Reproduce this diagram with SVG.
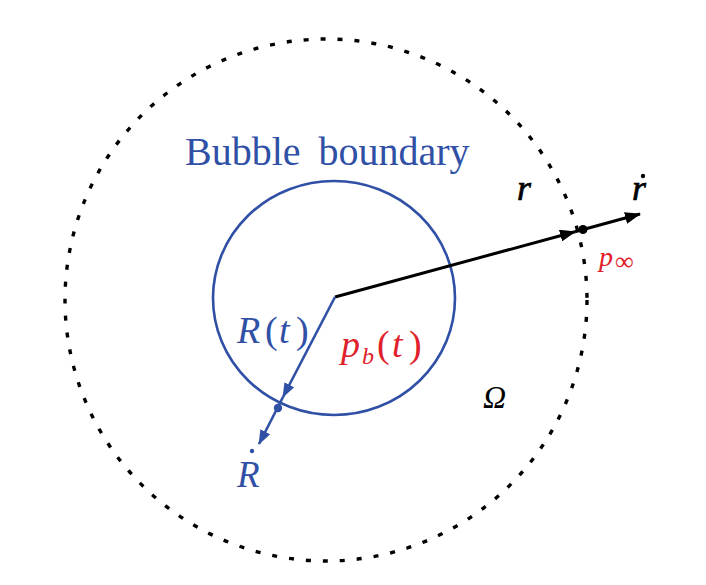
<svg xmlns="http://www.w3.org/2000/svg" width="706" height="585" viewBox="0 0 706 585">
  <style>
    .math { font-family: "Liberation Serif", "DejaVu Serif", serif; font-style: italic; }
    .up { font-family: "Liberation Serif", "DejaVu Serif", serif; font-style: normal; }
    .blue { fill: #3050a6; }
    .red { fill: #e0202a; }
    .black { fill: #000; }
  </style>
  <defs>
    <marker id="ahK" viewBox="0 0 16 12" refX="15" refY="6" markerWidth="16" markerHeight="12" markerUnits="userSpaceOnUse" orient="auto">
      <path d="M0,0 L16,6 L0,12 z" fill="#000"/>
    </marker>
    <marker id="ahB" viewBox="0 0 16 12" refX="15" refY="6" markerWidth="15" markerHeight="11" markerUnits="userSpaceOnUse" orient="auto">
      <path d="M0,0 L16,6 L0,12 z" fill="#3050a6"/>
    </marker>
  </defs>
  <rect width="706" height="585" fill="#fff"/>

  <g id="domain">
    <circle cx="326" cy="300" r="261" fill="none" stroke="#000" stroke-width="3.4" stroke-dasharray="5 12"/>
    <text class="math black" x="483" y="408" font-size="32">Ω</text>
  </g>

  <g id="bubble">
    <ellipse cx="334" cy="298" rx="121" ry="117" fill="none" stroke="#3050a6" stroke-width="2.6"/>
    <text class="up blue" x="185" y="165" font-size="40" word-spacing="8">Bubble boundary</text>
    <text class="red" y="357" font-size="38"><tspan class="math" x="341">p</tspan><tspan class="math" font-size="24" x="362" y="364">b</tspan><tspan class="up" x="377" y="357">(</tspan><tspan class="math" x="392">t</tspan><tspan class="up" x="409">)</tspan></text>
  </g>

  <g id="connectors">
    <line x1="335" y1="297" x2="575" y2="231.7" stroke="#000" stroke-width="3" marker-end="url(#ahK)"/>
    <line x1="575" y1="231.7" x2="640" y2="214" stroke="#000" stroke-width="3" marker-end="url(#ahK)"/>
    <circle cx="583" cy="229.5" r="4.5" fill="#000"/>
    <line x1="335" y1="297" x2="283" y2="397" stroke="#3050a6" stroke-width="2.6" marker-end="url(#ahB)"/>
    <line x1="283" y1="397" x2="259" y2="444" stroke="#3050a6" stroke-width="2.6" marker-end="url(#ahB)"/>
    <circle cx="278" cy="408" r="4.2" fill="#3050a6"/>
  </g>

  <g id="labels">
    <text class="math black" x="517" y="200" font-size="36" stroke="#000" stroke-width="0.7">r</text>
    <text class="math black" x="632" y="200" font-size="36" stroke="#000" stroke-width="0.7">r</text>
    <circle cx="643" cy="176" r="2.2" fill="#000"/>
    <text class="red" y="266" font-size="28"><tspan class="math" x="599">p</tspan><tspan class="up" font-size="26" x="615" y="270">∞</tspan></text>
    <text class="blue" y="343" font-size="38"><tspan class="math" x="237">R</tspan><tspan class="up" x="265">(</tspan><tspan class="math" x="279">t</tspan><tspan class="up" x="296">)</tspan></text>
    <text class="math blue" x="237" y="487" font-size="37">R</text>
    <circle cx="252" cy="451" r="2.2" fill="#3050a6"/>
  </g>
</svg>
